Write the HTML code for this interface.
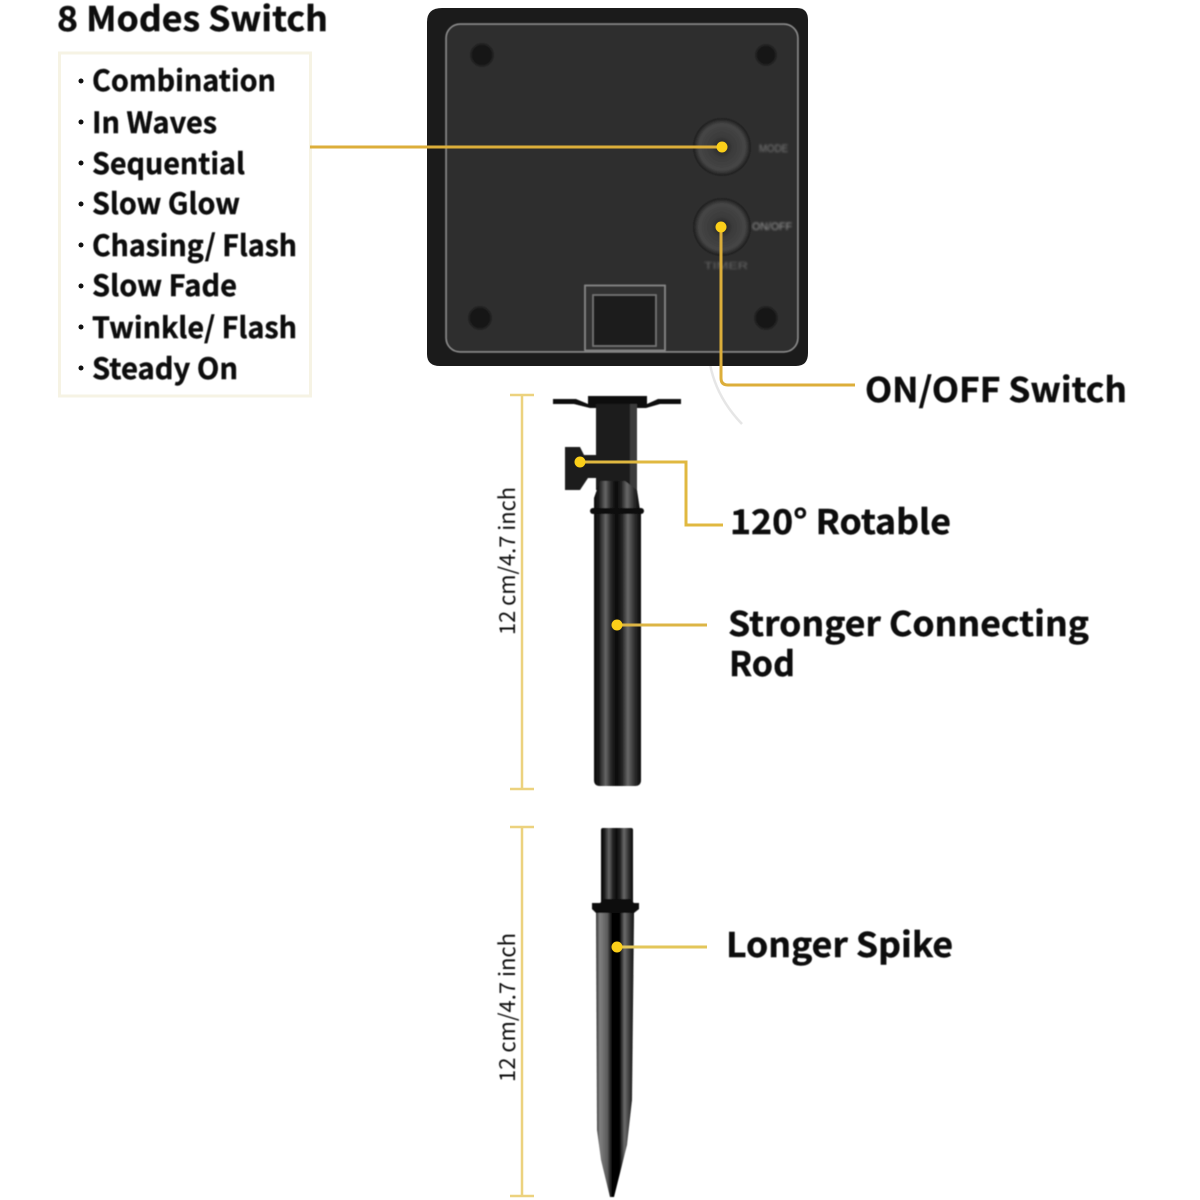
<!DOCTYPE html>
<html><head><meta charset="utf-8"><style>
html,body{margin:0;padding:0;background:#fff;width:1200px;height:1200px;overflow:hidden}
svg{display:block}
text{font-family:"Liberation Sans","Noto Sans CJK SC",sans-serif}
.n{font-family:"Noto Sans CJK SC","Liberation Sans",sans-serif;font-weight:700;fill:#0c0c0c;stroke:#0c0c0c;stroke-width:.4px}
.l{font-size:29px}.b{font-size:34px}
.r{font-family:"Noto Sans CJK SC","Liberation Sans",sans-serif;font-weight:400}
</style></head><body>
<svg width="1200" height="1200" viewBox="0 0 1200 1200" xmlns="http://www.w3.org/2000/svg">
<defs>
<filter id="s" x="-5%" y="-5%" width="110%" height="110%"><feGaussianBlur stdDeviation=".6"/></filter>
<filter id="t" x="-5%" y="-20%" width="110%" height="140%"><feGaussianBlur stdDeviation=".45"/></filter>
<filter id="m" x="-30%" y="-60%" width="160%" height="220%"><feGaussianBlur stdDeviation="1.100"/></filter>
<linearGradient id="rod" x1="0" x2="1" y1="0" y2="0">
<stop offset="0" stop-color="#0a0a0a"/><stop offset=".1" stop-color="#181818"/><stop offset=".25" stop-color="#666"/><stop offset=".36" stop-color="#2a2a2a"/><stop offset=".48" stop-color="#080808"/><stop offset=".6" stop-color="#262626"/><stop offset=".72" stop-color="#686868"/><stop offset=".86" stop-color="#303030"/><stop offset="1" stop-color="#080808"/>
</linearGradient>
<linearGradient id="spike" x1="0" x2="1" y1="0" y2="0">
<stop offset="0" stop-color="#333"/><stop offset=".1" stop-color="#808080"/><stop offset=".3" stop-color="#5c5c5c"/><stop offset=".42" stop-color="#050505"/><stop offset=".62" stop-color="#050505"/><stop offset=".75" stop-color="#6c6c6c"/><stop offset=".9" stop-color="#333"/><stop offset="1" stop-color="#111"/>
</linearGradient>
<radialGradient id="btn"><stop offset="0" stop-color="#1e1e1e"/><stop offset=".35" stop-color="#3a3a3a"/><stop offset=".8" stop-color="#464646"/><stop offset="1" stop-color="#1c1c1c"/></radialGradient>
</defs>

<!-- left list -->
<g filter="url(#t)">
<text class="n" x="57" y="31" font-size="34" textLength="271" lengthAdjust="spacingAndGlyphs">8 Modes Switch</text>
<text class="n l" x="92" y="91" textLength="184" lengthAdjust="spacingAndGlyphs">Combination</text>
<text class="n l" x="92" y="133" textLength="125" lengthAdjust="spacingAndGlyphs">In Waves</text>
<text class="n l" x="92" y="174" textLength="153" lengthAdjust="spacingAndGlyphs">Sequential</text>
<text class="n l" x="92" y="214" textLength="148" lengthAdjust="spacingAndGlyphs">Slow Glow</text>
<text class="n l" x="92" y="256" textLength="205" lengthAdjust="spacingAndGlyphs">Chasing/ Flash</text>
<text class="n l" x="92" y="296" textLength="145" lengthAdjust="spacingAndGlyphs">Slow Fade</text>
<text class="n l" x="92" y="338" textLength="205" lengthAdjust="spacingAndGlyphs">Twinkle/ Flash</text>
<text class="n l" x="92" y="379" textLength="146" lengthAdjust="spacingAndGlyphs">Steady On</text>
</g>
<rect x="59.500" y="53" width="251" height="343" fill="none" stroke="#f6f3e4" stroke-width="3"/>
<g fill="#111">
<circle cx="81" cy="81" r="2.500"/><circle cx="81" cy="122" r="2.500"/><circle cx="81" cy="163" r="2.500"/><circle cx="81" cy="204" r="2.500"/><circle cx="81" cy="245" r="2.500"/><circle cx="81" cy="286" r="2.500"/><circle cx="81" cy="327" r="2.500"/><circle cx="81" cy="368" r="2.500"/>
</g>

<!-- control box -->
<path d="M709 358 Q714 395 742 424" fill="none" stroke="#e6e6e6" stroke-width="2.500"/>
<path d="M442 8H797Q808 8 808 20V353Q808 366 796 366H440Q427 366 427 354V22Q427 8 442 8Z" fill="#1b1b1b"/>
<g filter="url(#s)">
<rect x="446" y="24" width="352" height="328" rx="14" fill="#2f2f2f" stroke="#8c8c8c" stroke-width="1.500"/>
<g fill="#121212" stroke="#222" stroke-width="2">
<circle cx="482" cy="55" r="11"/><circle cx="766" cy="55" r="10"/><circle cx="480" cy="318" r="11"/><circle cx="766" cy="318" r="11"/>
</g>
<circle cx="722" cy="147" r="29" fill="url(#btn)"/>
<circle cx="722" cy="227" r="29" fill="url(#btn)"/>
<rect x="585" y="285.500" width="80" height="65" fill="#333" stroke="#8a8a8a" stroke-width="1.500"/>
<rect x="593" y="295" width="63" height="51" fill="#1c1c1c" stroke="#777" stroke-width="1.500"/>
</g>
<text x="759" y="152" font-size="11" fill="#7c7c7c" textLength="29" lengthAdjust="spacingAndGlyphs" filter="url(#m)">MODE</text>
<text x="752" y="230" font-size="11" fill="#9a9a9a" textLength="40" lengthAdjust="spacingAndGlyphs" filter="url(#m)">ON/OFF</text>
<text x="704" y="269" font-size="10" fill="#666" textLength="44" lengthAdjust="spacingAndGlyphs" filter="url(#m)">TIMER</text>

<!-- connectors on box -->
<path d="M310 147H722" fill="none" stroke="#dcae3a" stroke-width="3"/>
<path d="M721 227V378Q721 385 728 385H855" fill="none" stroke="#dcae3a" stroke-width="3"/>
<circle cx="722" cy="147" r="5.500" fill="#fbcf19"/>
<circle cx="721" cy="227" r="5.500" fill="#fbcf19"/>

<!-- bracket + rod -->
<g filter="url(#s)">
<path d="M553 399H576L588 404V396H647V404L658 399H681V404H660L646 408H590L574 404H553Z" fill="#111"/>
<rect x="596" y="404" width="41" height="86" fill="#1a1a1a"/>
<rect x="630" y="404" width="7" height="86" fill="#3b3b3b"/>
<path d="M565 447H580L584 455H597V478H588L580 490H565Z" fill="#1c1c1c"/>
<path d="M600 481H625L637 490L640 510H594V498Z" fill="url(#rod)"/>
<rect x="590" y="508" width="54" height="6" rx="3" fill="#111"/>
<path d="M594 514H641V780Q641 786 635 786H600Q594 786 594 780Z" fill="url(#rod)"/>

<!-- spike -->
<rect x="601" y="828" width="32" height="78" rx="2" fill="url(#rod)"/>
<path d="M592 903H600L604 899H630L634 903H639V909L634 913H596L592 909Z" fill="#111"/>
<path d="M596 913H634L632 1100L627 1145L614 1197H610L601 1160L597 1130Z" fill="url(#spike)"/>
</g>

<!-- leader lines -->
<path d="M580 462H686V525H723" fill="none" stroke="#e0b840" stroke-width="3"/>
<path d="M618 625H707" fill="none" stroke="#dcb545" stroke-width="3"/>
<path d="M618 947H707" fill="none" stroke="#e3c65a" stroke-width="3"/>
<circle cx="580" cy="462" r="5.500" fill="#fbcf19"/>
<circle cx="617" cy="625" r="5.500" fill="#fbcf19"/>
<circle cx="617" cy="947" r="5.500" fill="#fbcf19"/>

<!-- dimension lines -->
<g stroke="#ecd27e" stroke-width="2.500" fill="none">
<path d="M522 395V789M510 395H534M510 789H534"/>
<path d="M522 827V1196M510 827H534M510 1196H534"/>
</g>
<g filter="url(#t)">
<text class="r" transform="translate(515 635) rotate(-90)" font-size="22" fill="#111" textLength="148" lengthAdjust="spacingAndGlyphs">12 cm/4.7 inch</text>
<text class="r" transform="translate(515 1082) rotate(-90)" font-size="22" fill="#111" textLength="149" lengthAdjust="spacingAndGlyphs">12 cm/4.7 inch</text>

<!-- labels -->
<text class="n b" x="865" y="402" textLength="262" lengthAdjust="spacingAndGlyphs">ON/OFF Switch</text>
<text class="n b" x="730" y="534" textLength="221" lengthAdjust="spacingAndGlyphs">120° Rotable</text>
<text class="n b" x="728" y="636" textLength="361" lengthAdjust="spacingAndGlyphs">Stronger Connecting</text>
<text class="n b" x="729" y="676" textLength="66" lengthAdjust="spacingAndGlyphs">Rod</text>
<text class="n b" x="726" y="957" textLength="227" lengthAdjust="spacingAndGlyphs">Longer Spike</text>
</g>
</svg>
</body></html>
